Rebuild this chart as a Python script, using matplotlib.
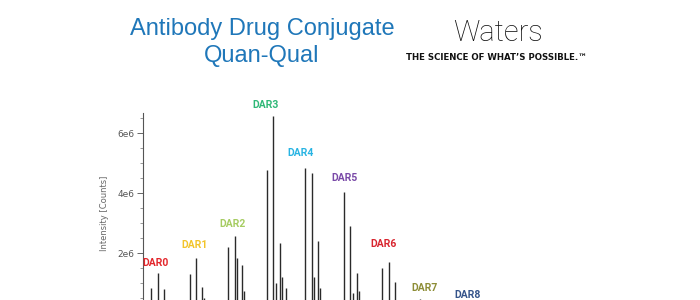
import numpy as np
import matplotlib
matplotlib.use("Agg")
import matplotlib.pyplot as plt
from matplotlib.ticker import MultipleLocator, FuncFormatter

# --- Data (stick spectrum) ---
# peak positions (arbitrary axis units) and intensities (counts)
peak_pos = [8, 14.7, 21, 47, 53, 59.3, 61, 85.3, 92, 94, 98.7, 101,
            123.7, 130, 133, 136.7, 139.3, 142.7, 146,
            162, 168.7, 171.3, 175.3, 177.3, 180,
            200.7, 207.3, 209.7, 213.7, 216,
            238.7, 245.7, 252, 277]
peak_int = [0.83e6, 1.34e6, 0.81e6, 1.30e6, 1.83e6, 0.87e6, 0.5e6,
            2.19e6, 2.57e6, 1.83e6, 1.60e6, 0.74e6,
            4.77e6, 6.58e6, 1.0e6, 2.34e6, 1.21e6, 0.83e6, 0.4e6,
            4.84e6, 4.68e6, 1.2e6, 2.41e6, 0.83e6, 0.4e6,
            4.04e6, 2.91e6, 0.67e6, 1.32e6, 0.74e6,
            1.49e6, 1.71e6, 1.04e6, 0.47e6]

dar_labels = ["DAR0", "DAR1", "DAR2", "DAR3", "DAR4", "DAR5", "DAR6", "DAR7", "DAR8"]
dar_x = [13, 52, 89, 123, 158, 202, 241, 281, 325]
dar_y = [1.67e6, 2.27e6, 2.97e6, 6.93e6, 5.33e6, 4.5e6, 2.3e6, 0.83e6, 0.6e6]
dar_colors = ["#e3262b", "#f2c42a", "#a6cc62", "#2fb877", "#28b4e3",
              "#7a4aa8", "#d8252f", "#8d8d36", "#35548a"]

W, H = 700, 300
fig = plt.figure(figsize=(7, 3), dpi=100)
fig.patch.set_facecolor("white")

# axes: spine at x=143px, value 0 sits just below the picture edge
ax = fig.add_axes([143 / W, -13 / H, 557 / W, 200 / H])
ax.vlines(peak_pos, 0, peak_int, color="#2a2a2a", linewidth=1.0)
ax.set_xlim(0, 557)
ax.set_ylim(0, 6.67e6)

for s in ["top", "right", "bottom"]:
    ax.spines[s].set_visible(False)
ax.spines["left"].set_color("#555555")
ax.spines["left"].set_linewidth(0.8)
ax.set_xticks([])
ax.yaxis.set_major_locator(MultipleLocator(2e6))
ax.yaxis.set_minor_locator(MultipleLocator(0.5e6))
ax.yaxis.set_major_formatter(FuncFormatter(lambda v, p: "" if v == 0 else f"{int(v/1e6)}e6"))
ax.tick_params(axis="y", which="major", length=4, width=0.7, color="#666666",
               labelsize=6.5, labelcolor="#555555", pad=2)
ax.tick_params(axis="y", which="minor", length=2, width=0.6, color="#888888")
ax.set_ylabel("Intensity [Counts]", fontsize=6, color="#666666", labelpad=6)

for lab, x, y, c in zip(dar_labels, dar_x, dar_y, dar_colors):
    ax.text(x, y, lab, color=c, fontsize=7.5, fontweight="bold", family="Roboto",
            ha="center", va="center", clip_on=False)

# header
fig.text(262 / W, 1 - 29 / H, "Antibody Drug Conjugate", color="#1f77b9",
         fontsize=17, family="Liberation Sans", ha="center", va="center")
fig.text(262 / W, 1 - 56 / H, "Quan-Qual", color="#1f77b9",
         fontsize=17, family="Liberation Sans", ha="center", va="center")
fig.text(498 / W, 1 - 33 / H, "Waters", color="#111111", fontsize=21,
         family="Roboto", fontweight="light", ha="center", va="center")
fig.text(496 / W, 1 - 58 / H, "THE SCIENCE OF WHAT\u2019S POSSIBLE.\u2122", color="#111111",
         fontsize=6.2, family="DejaVu Sans", fontweight="bold", ha="center", va="center")

fig.savefig("out.png", dpi=100)
